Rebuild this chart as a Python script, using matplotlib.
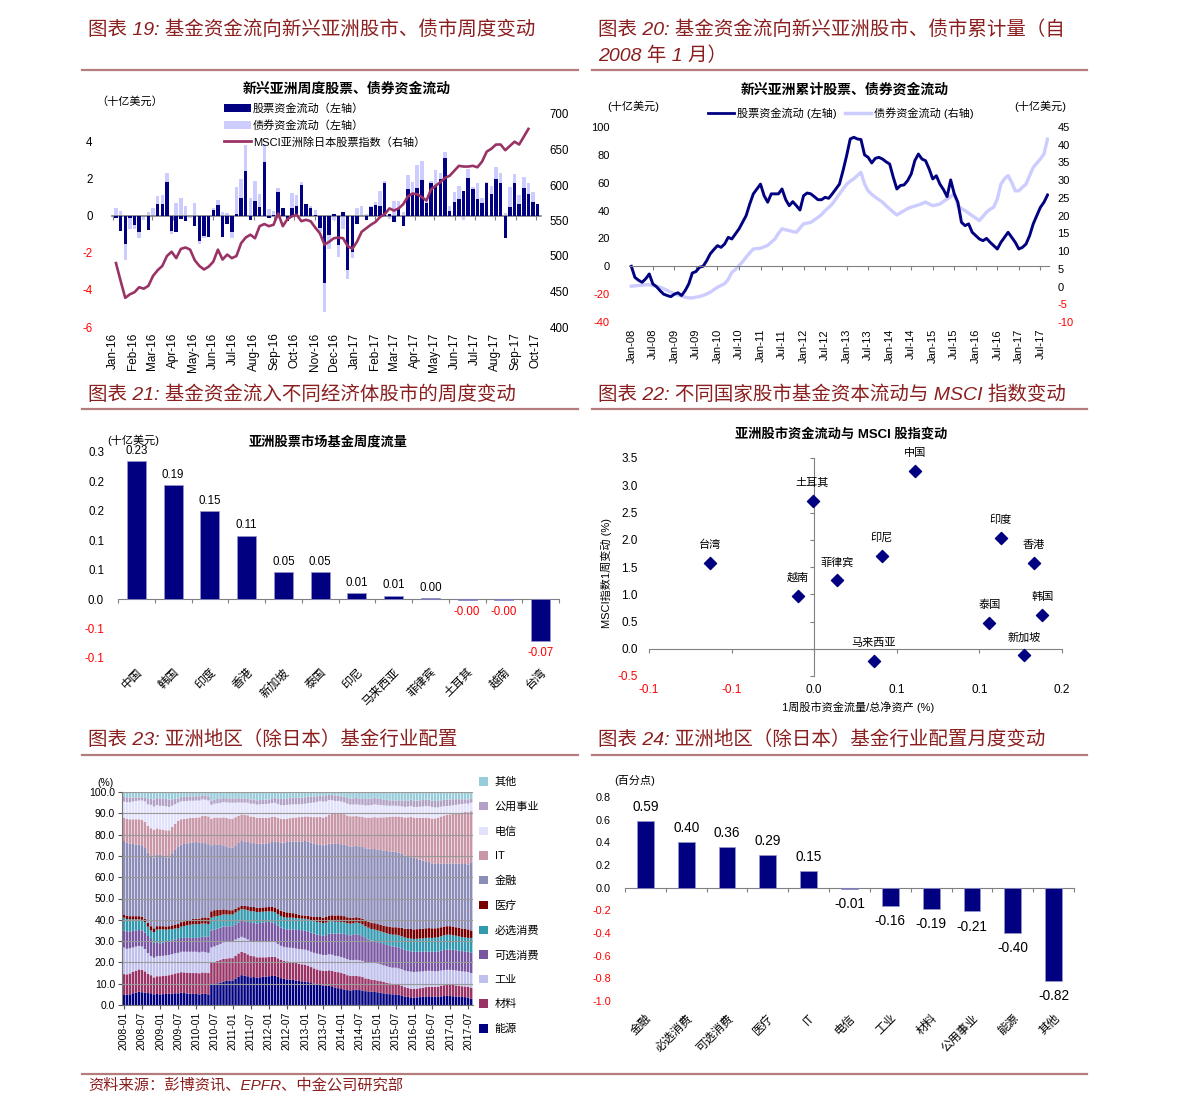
import numpy as np
import pandas as pd
import matplotlib
matplotlib.use('Agg')
import matplotlib.pyplot as plt
import matplotlib.dates as mdates
from matplotlib.patches import Patch
from matplotlib.lines import Line2D

plt.rcParams['font.family'] = ['Liberation Sans', 'Noto Sans CJK SC']
plt.rcParams['axes.unicode_minus'] = False

# ---------------- data ----------------
# Chart 19: weekly flows (bn USD) and MSCI Asia ex Japan
equity_weekly = [-0.1,-0.8,-1.5,-0.1,-0.5,-0.85,0.0,-0.75,0.0,0.63,
                 0.63,1.82,-0.8,-0.85,-0.15,-0.3,0.0,-0.55,-1.35,-1.1,
                 -1.15,0.3,0.6,-1.15,-0.45,-0.85,0.1,0.95,2.4,-0.2,
                 0.8,0.5,2.9,-0.1,0.05,1.3,0.45,-0.3,0.4,0.55,
                 1.65,0.65,0.4,0.05,-0.65,-3.6,-1.05,0.1,-1.55,0.2,
                 -2.9,-1.95,-0.45,0.0,-0.25,0.5,0.6,0.55,1.75,0.1,
                 -0.35,0.4,-0.55,1.45,1.2,1.5,1.95,0.7,1.75,1.6,
                 2.0,3.15,0.25,0.75,0.9,1.35,2.05,1.45,0.9,0.7,
                 1.75,1.2,2.0,1.75,-1.2,0.5,1.75,0.65,1.5,1.2,
                 0.75,0.65]
bond_weekly = [0.45,0.25,-2.4,-0.7,-0.7,-1.2,-0.2,0.2,0.45,1.05,
               1.15,2.3,-1.0,0.7,0.95,0.55,-0.1,0.7,-1.5,-1.2,
               -1.1,0.4,0.85,0.2,0.15,-1.2,1.55,2.0,3.8,0.95,
               1.9,1.2,3.9,0.35,0.25,1.5,0.35,0.0,1.25,1.1,
               1.85,0.6,0.55,0.3,-0.85,-5.2,-1.8,-0.2,-2.2,-0.7,
               -3.4,-2.3,0.4,0.55,0.1,0.55,0.75,1.35,1.9,-0.15,
               0.8,0.8,0.2,2.2,1.85,2.75,2.95,0.75,1.9,2.5,
               2.3,3.45,0.55,1.3,1.6,-0.2,2.55,1.55,1.8,0.95,
               1.85,1.6,2.65,2.3,0.15,1.55,2.25,1.15,2.1,1.75,
               1.3,0.6]
msci_axj = [490,465,441,446,449,456,454,458,472,480,
            486,500,506,497,510,512,509,494,486,481,
            485,492,509,495,502,497,500,518,526,530,
            525,542,545,542,544,560,542,552,556,558,
            549,551,549,540,532,516,520,525,526,525,
            514,510,520,534,539,544,548,555,559,567,
            564,567,573,584,588,587,583,578,594,599,
            604,610,613,620,627,626,626,627,625,633,
            647,651,657,657,649,655,661,657,668,679]

# Chart 20: cumulative flows since Jan-08 (monthly)
equity_cum = [0,-8,-10,-11.5,-9,-5.5,-12.7,-14.6,-17.5,-20,
              -21,-21.8,-20,-19,-21,-17.5,-12.7,-4.8,-3.8,-0.7,
              0,4,9,12,14.8,13.6,16,20.8,19.6,23.2,
              26.8,31.6,36.4,44.7,52,55.5,59,50.7,46,52,
              52,52,55.5,48,43.5,46.4,43.5,40.4,50.7,52.6,
              52,50,47.8,47.8,49.5,48.8,52,55.5,59,68.7,
              79.4,91.4,92.6,91.4,91,80,78.2,74.2,77.5,78.2,
              77,75,73.4,63.9,55.5,58,58.4,61.5,66.3,75.8,
              80.6,77,75.8,69.9,62.7,65,59,55,50,62,
              52,46,31.6,29.2,30.4,24.4,22,19.6,18.4,20,
              17.2,14.8,12.4,17.2,20.8,24.4,20.8,17.2,12.4,13.6,
              16,22,30.4,36.4,42.3,46,51.2]
bond_cum = [0.1,0.2,0.3,0.4,0.5,0.5,0.3,0.0,-0.2,-0.6,
            -1.1,-1.6,-2.0,-2.4,-2.7,-3.0,-3.2,-3.2,-3.0,-2.8,
            -2.5,-2.1,-1.6,-0.9,-0.2,0.3,0.8,2.0,4.0,4.8,
            5.9,7.0,8.3,9.5,10.6,10.7,10.8,11.2,11.6,12.5,
            13.4,15.0,16.3,16.0,15.8,15.5,15.3,16.5,17.7,17.9,
            18.1,18.8,19.5,20.3,21.4,22.3,23.3,24.7,26.1,27.5,
            28.9,29.7,30.4,31.3,32.2,28.9,27.0,26.0,25.2,24.5,
            23.8,22.8,21.9,21.0,20.2,20.8,21.4,22.0,22.4,22.7,
            23.0,23.4,23.8,23.3,22.8,23.0,23.3,24.0,24.7,25.4,
            26.1,22.8,22.0,21.4,20.7,20.0,19.3,18.6,19.8,21.0,
            21.8,22.4,24.7,28.9,30.4,31.3,29.4,27.0,27.0,28.0,
            28.9,31.3,33.6,34.8,36.0,37.4,41.6]
labels20 = ['Jan-08','Jul-08','Jan-09','Jul-09','Jan-10','Jul-10','Jan-11','Jul-11',
            'Jan-12','Jul-12','Jan-13','Jul-13','Jan-14','Jul-14','Jan-15','Jul-15',
            'Jan-16','Jul-16','Jan-17','Jul-17']

# Chart 21
countries21 = ['中国','韩国','印度','香港','新加坡','泰国','印尼','马来西亚','菲律宾','土耳其','越南','台湾']
flows21 = [0.234,0.194,0.149,0.108,0.046,0.046,0.010,0.006,0.002,-0.001,-0.001,-0.071]
yt21 = [-0.1,-0.05,0,0.05,0.1,0.15,0.2,0.25]
ytl21 = ['-0.1','-0.1','0.0','0.1','0.1','0.2','0.2','0.3']

# Chart 22
names22 = ['台湾','土耳其','中国','印尼','菲律宾','越南','马来西亚','印度','香港','韩国','泰国','新加坡']
flow_pct22 = [-0.063,-0.001,0.061,0.041,0.014,-0.010,0.036,0.113,0.133,0.138,0.106,0.127]
msci_chg22 = [1.58,2.71,3.26,1.71,1.26,0.97,-0.22,2.04,1.58,0.62,0.48,-0.12]
xt22 = [-0.1,-0.05,0,0.05,0.1,0.15]
xtl22 = ['-0.1','-0.1','0.0','0.1','0.1','0.2']

# Chart 23: sector allocation (%), monthly 2008-01 .. 2017-08
sectors23 = ['能源','材料','工业','可选消费','必选消费','医疗','金融','IT','电信','公用事业','其他']
energy = [5.0,4.8,5.0,5.5,5.8,6.2, 6.0,5.8,5.6,5.5,5.0,5.2, 5.0,5.1,5.2,5.3,5.4,5.5,
          5.5,5.8,5.6,5.4,5.3,5.2, 5.2,5.0,5.3,5.2,5.0,9.5, 9.8,10.2,10.5,11.0,11.3,11.5,
          11.5,12.3,13.2,14.0,13.8,13.5, 13.0,13.1,12.8,13.0,13.2,13.3, 13.5,13.6,13.8,13.2,12.6,12.3,
          12.0,11.9,11.8,11.5,11.3,11.1, 11.0,10.7,10.3,10.0,9.7,9.4, 9.2,9.0,9.1,8.8,8.2,7.9,
          7.5,7.3,7.0,6.8,7.0,7.2, 7.0,6.8,6.5,6.4,6.2,6.1, 6.0,5.8,5.5,5.3,5.1,5.0,
          5.0,4.8,4.5,4.0,3.8,3.6, 3.5,3.6,3.7,3.8,4.0,4.1, 4.0,3.9,3.8,4.0,4.2,4.3,
          4.2,4.1,4.0,3.9,3.8,3.7, 3.5,3.0]
materials = [9.5,9.6,9.8,10.0,10.3,10.5, 10.5,10.0,9.0,8.5,8.0,8.3, 8.5,8.5,8.6,8.7,9.0,9.3,
             9.5,9.6,9.7,9.8,9.8,9.8, 9.8,9.9,10.0,10.0,10.0,10.5, 10.5,10.5,10.6,10.6,10.5,10.5,
             10.5,10.8,11.0,11.0,10.7,10.3, 10.0,9.8,9.6,9.4,9.2,9.1, 9.0,9.0,8.8,8.7,8.6,8.5,
             8.5,8.4,8.3,8.2,8.1,8.0, 8.0,7.8,7.5,7.2,7.0,6.9, 6.8,7.0,7.2,7.3,7.4,7.5,
             7.5,7.3,7.0,6.8,6.6,6.5, 6.5,6.3,6.0,5.8,5.7,5.6, 5.5,5.4,5.3,5.2,5.1,5.0,
             5.0,4.8,4.6,4.4,4.2,4.1, 4.0,4.1,4.2,4.3,4.4,4.5, 4.5,4.6,4.8,5.0,5.1,5.2,
             5.3,5.3,5.2,5.1,5.0,5.0, 5.0,5.0]
industrials = [12.5,12.0,11.8,11.5,11.3,11.0, 11.0,10.5,9.8,9.0,9.2,9.4, 9.5,9.5,9.5,9.5,9.5,9.5,
               9.5,9.6,9.7,9.8,9.9,10.0, 10.0,9.8,9.7,9.6,9.5,7.0, 7.2,7.4,7.6,7.8,7.9,8.0,
               8.0,7.6,7.2,7.0,7.0,7.0, 7.0,7.1,7.2,7.3,7.4,7.5, 7.5,7.3,7.0,6.8,6.6,6.5,
               6.5,6.6,6.7,6.8,6.9,7.0, 7.0,7.1,7.2,7.3,7.4,7.5, 7.5,7.5,7.5,7.5,7.5,7.5,
               7.5,7.5,7.5,7.5,7.5,7.5, 7.5,7.6,7.7,7.8,7.9,8.0, 8.0,7.9,7.8,7.7,7.6,7.5,
               7.5,7.6,7.7,7.8,7.9,8.0, 8.0,7.9,7.8,7.7,7.6,7.5, 7.5,7.4,7.3,7.2,7.1,7.0,
               7.0,7.0,7.0,7.0,7.0,7.0, 7.0,7.0]
cons_disc = [8.0,8.2,8.0,7.8,7.6,7.5, 7.5,7.8,8.0,8.0,7.0,6.5, 6.0,6.2,6.3,6.5,6.5,6.5,
             6.5,6.5,6.5,6.5,6.5,6.5, 6.5,6.8,7.0,7.3,7.5,8.0, 8.0,7.8,7.6,7.4,7.2,7.0,
             7.0,7.2,7.4,7.5,7.8,8.2, 8.5,8.6,8.7,8.8,8.9,9.0, 9.0,8.9,8.8,8.7,8.6,8.5,
             8.5,8.6,8.7,8.8,8.9,9.0, 9.0,9.0,9.0,9.0,9.0,9.0, 9.0,9.3,9.7,10.0,10.4,10.7,
             11.0,11.2,11.4,11.6,11.8,12.0, 12.0,11.6,11.2,10.8,10.4,10.2, 10.0,10.0,10.0,10.0,10.0,10.0,
             10.0,9.9,9.8,9.7,9.6,9.5, 9.5,9.4,9.3,9.2,9.1,9.0, 9.0,9.1,9.2,9.3,9.4,9.5,
             9.5,9.5,9.5,9.5,9.5,9.5, 9.5,9.5]
cons_stap = [6.0,5.8,5.6,5.4,5.2,5.0, 5.0,4.8,4.4,4.0,5.0,6.0, 6.5,6.2,5.8,5.5,5.3,5.1,
             5.0,5.3,5.6,5.9,6.2,6.4, 6.5,6.4,6.3,6.1,6.0,6.0, 6.0,5.9,5.8,5.7,5.6,5.5,
             5.5,5.5,5.5,5.5,5.5,5.5, 5.5,5.4,5.3,5.2,5.1,5.0, 5.0,5.1,5.2,5.3,5.4,5.5,
             5.5,5.5,5.5,5.5,5.5,5.5, 5.5,5.6,5.7,5.8,5.9,6.0, 6.0,5.9,5.8,5.7,5.6,5.5,
             5.5,5.5,5.5,5.5,5.5,5.5, 5.5,5.5,5.5,5.5,5.5,5.5, 5.5,5.5,5.5,5.5,5.5,5.5,
             5.5,5.6,5.7,5.8,5.9,6.0, 6.0,6.1,6.2,6.3,6.4,6.5, 6.5,6.6,6.7,6.8,6.9,7.0,
             7.0,6.9,6.8,6.7,6.6,6.5, 6.5,7.0]
health = [1.5,1.5,1.5,1.5,1.5,1.5, 1.5,1.6,1.8,2.0,1.8,1.6, 1.5,1.5,1.5,1.5,1.7,1.9,
          2.0,2.1,2.2,2.3,2.4,2.5, 2.5,2.6,2.8,2.9,3.0,3.0, 3.0,2.8,2.6,2.4,2.2,2.0,
          2.0,1.8,1.6,1.5,1.7,1.9, 2.0,2.0,2.0,2.0,2.0,2.0, 2.0,2.1,2.2,2.3,2.4,2.5,
          2.5,2.3,2.1,1.9,1.7,1.5, 1.5,1.7,1.9,2.1,2.3,2.5, 2.5,2.6,2.7,2.8,2.9,3.0,
          3.0,2.9,2.8,2.7,2.6,2.5, 2.5,2.6,2.7,2.8,2.9,3.0, 3.0,3.1,3.2,3.3,3.4,3.5,
          3.5,3.7,3.9,4.1,4.3,4.5, 4.5,4.5,4.5,4.5,4.5,4.5, 4.5,4.4,4.3,4.2,4.1,4.0,
          4.0,4.0,4.0,4.0,4.0,4.0, 4.0,3.5]
financials = [34.5,34.3,34.1,33.9,33.7,33.5, 33.5,33.2,33.0,33.0,33.2,33.4, 33.5,33.0,32.5,32.0,33.5,35.0,
              36.5,36.4,36.3,36.2,36.1,36.0, 36.0,35.6,35.2,34.9,34.5,31.0, 31.0,30.7,30.4,30.1,29.8,29.5,
              29.5,29.8,30.2,30.5,30.3,30.2, 30.0,30.0,30.0,30.0,30.0,30.0, 30.0,30.5,31.0,31.5,32.0,32.5,
              33.0,33.3,33.7,34.0,34.4,34.7, 35.0,34.8,34.6,34.4,34.2,34.0, 34.0,33.9,33.8,33.7,33.6,33.5,
              33.5,33.5,33.5,33.5,33.5,33.5, 33.5,33.8,34.0,34.3,34.6,34.8, 35.0,35.1,35.2,35.3,35.4,35.5,
              35.5,35.2,34.8,34.4,34.0,33.7, 33.5,33.0,32.5,32.0,31.5,31.0, 30.5,30.3,30.1,29.9,29.7,29.5,
              29.5,29.7,29.9,30.1,30.3,30.5, 30.5,32.0]
info_tech = [11.0,11.2,11.4,11.6,11.8,12.0, 12.0,12.3,12.6,13.0,13.0,12.5, 12.0,12.3,12.6,13.0,12.7,12.3,
             12.0,11.9,11.8,11.7,11.6,11.5, 11.5,12.0,12.4,12.8,13.0,12.5, 12.5,12.7,12.9,13.1,13.3,13.5,
             13.5,13.2,12.8,12.5,12.5,12.5, 12.5,12.4,12.3,12.2,12.1,12.0, 12.0,11.8,11.6,11.4,11.2,11.0,
             11.0,11.1,11.2,11.3,11.4,11.5, 11.5,11.8,12.1,12.4,12.7,13.0, 13.0,13.3,13.6,13.9,14.2,14.5,
             14.5,14.4,14.3,14.2,14.1,14.0, 14.0,14.2,14.4,14.6,14.8,15.0, 15.0,15.3,15.6,15.9,16.2,16.5,
             16.5,16.9,17.3,17.8,18.4,19.0, 19.0,19.3,19.7,20.1,20.5,20.8, 21.0,21.3,21.7,22.1,22.5,22.8,
             23.0,23.3,23.6,23.9,24.2,24.4, 24.5,24.0]
telecom = [7.5,7.8,8.0,8.3,8.6,8.8, 9.0,9.5,10.0,11.0,11.0,11.0, 11.0,11.2,11.3,11.0,10.0,9.2,
           8.5,8.4,8.3,8.2,8.1,8.0, 8.0,7.9,7.8,7.6,7.5,6.5, 6.5,6.7,6.9,7.1,7.3,7.5,
           7.5,6.8,6.2,5.5,5.7,5.9, 6.0,6.1,6.2,6.3,6.4,6.5, 6.5,6.5,6.5,6.5,6.5,6.5,
           6.5,6.4,6.3,6.2,6.1,6.0, 6.0,6.3,6.6,6.9,7.2,7.5, 7.5,7.1,6.8,6.4,6.0,5.7,
           5.5,5.5,5.5,5.5,5.5,5.5, 5.5,5.6,5.7,5.8,5.9,6.0, 6.0,5.8,5.6,5.4,5.2,5.1,
           5.0,5.0,5.0,5.0,5.0,5.0, 5.0,5.1,5.2,5.3,5.4,5.5, 5.5,5.2,4.9,4.6,4.3,4.1,
           4.0,4.0,4.0,4.0,4.0,4.0, 4.0,4.0]
utilities = [2.5,2.3,2.1,1.9,1.7,1.5, 1.5,2.0,2.5,3.0,3.2,3.4, 3.5,3.5,3.5,3.5,3.0,2.5,
             2.0,2.0,2.0,2.0,2.0,2.0, 2.0,2.0,2.0,2.0,2.0,2.0, 2.0,2.0,2.0,2.0,2.0,2.0,
             2.0,2.0,2.0,2.0,2.0,2.0, 2.0,2.0,2.0,2.0,2.0,2.0, 2.0,2.2,2.4,2.6,2.8,3.0,
             3.0,3.0,3.0,3.0,3.0,3.0, 3.0,2.9,2.8,2.7,2.6,2.5, 2.5,2.5,2.5,2.5,2.5,2.5,
             2.5,2.6,2.7,2.8,2.9,3.0, 3.0,3.0,3.0,3.0,3.0,3.0, 3.0,2.9,2.8,2.7,2.6,2.5,
             2.5,2.6,2.7,2.8,2.9,3.0, 3.0,3.0,3.0,3.0,3.0,3.0, 3.0,3.0,3.0,3.0,3.0,3.0,
             3.0,2.8,2.6,2.4,2.2,2.0, 2.0,2.0]
labels23 = ['2008-01','2008-07','2009-01','2009-07','2010-01','2010-07','2011-01','2011-07',
            '2012-01','2012-07','2013-01','2013-07','2014-01','2014-07','2015-01','2015-07',
            '2016-01','2016-07','2017-01','2017-07']
colors23 = ['#000080','#993366','#C0C0EC','#7856A2','#3399AE','#780000',
            '#8C8CB8','#C896A6','#E2E2FC','#B2A2C6','#98CCDA']

# Chart 24
sectors24 = ['金融','必选消费','可选消费','医疗','IT','电信','工业','材料','公用事业','能源','其他']
chg24 = [0.59,0.40,0.36,0.29,0.15,-0.01,-0.16,-0.19,-0.21,-0.40,-0.82]

# ---------------- layout helpers ----------------
W, H = 1191, 1116
fig = plt.figure(figsize=(W/100, H/100), dpi=100)

def rect(l, t, r, b):
    return [l/W, 1-b/H, (r-l)/W, (b-t)/H]
def fx(x): return x/W
def fy(y): return 1-y/H

HDR = '#8B1E1E'
HLINE = '#B47C7C'
NAVY = '#000080'
GRAY = '#808080'

def header(x, y, s, size=14):
    fig.text(fx(x), fy(y), s, fontsize=size, color=HDR, style='italic', ha='left', va='center')
def hline(x0, x1, y):
    fig.add_artist(Line2D([fx(x0), fx(x1)], [fy(y), fy(y)], color=HLINE, lw=1.6))

def color_neg(labels, vals):
    for lab, v in zip(labels, vals):
        if v < 0:
            lab.set_color('red')

header(88, 30, '图表 19: 基金资金流向新兴亚洲股市、债市周度变动')
header(598, 30, '图表 20: 基金资金流向新兴亚洲股市、债市累计量（自')
header(598, 56, '2008 年 1 月）')
hline(82, 578, 70); hline(592, 1087, 70)
header(88, 395, '图表 21: 基金资金流入不同经济体股市的周度变动')
header(598, 395, '图表 22: 不同国家股市基金资本流动与 MSCI 指数变动')
hline(82, 578, 409); hline(592, 1087, 409)
header(88, 740, '图表 23: 亚洲地区（除日本）基金行业配置')
header(598, 740, '图表 24: 亚洲地区（除日本）基金行业配置月度变动')
hline(82, 578, 755); hline(592, 1087, 755)
hline(82, 1087, 1074)
header(88, 1085, '资料来源：彭博资讯、EPFR、中金公司研究部', size=11)

# ---------------- Chart 19 ----------------
weeks = mdates.date2num(pd.date_range('2016-01-06', periods=len(equity_weekly), freq='7D'))
ax = fig.add_axes(rect(112, 114, 541, 327))
ax.bar(weeks, bond_weekly, width=5.2, color='#CCCCFF', zorder=2)
ax.bar(weeks, equity_weekly, width=5.2, color=NAVY, zorder=3)
ax.set_ylim(-6, 5.5)
ax.set_xlim(mdates.date2num(pd.Timestamp('2015-12-31')), mdates.date2num(pd.Timestamp('2017-10-09')))
yt = [-6, -4, -2, 0, 2, 4]
ax.set_yticks(yt)
ax.set_yticklabels([str(v) for v in yt])
color_neg(ax.get_yticklabels(), yt)
ax.tick_params(axis='y', length=0, labelsize=8.3, pad=14)
for s in ['top', 'right', 'left']:
    ax.spines[s].set_visible(False)
ax.spines['bottom'].set_position(('data', 0))
ax.spines['bottom'].set_color(GRAY)
ax.spines['bottom'].set_linewidth(1.2)
ax.xaxis.set_major_locator(mdates.MonthLocator())
ax.tick_params(axis='x', direction='out', length=3, color=GRAY, labelbottom=False)
sec = ax.secondary_xaxis('bottom')
sec.xaxis.set_major_locator(mdates.MonthLocator())
sec.xaxis.set_major_formatter(mdates.DateFormatter('%b-%y'))
sec.tick_params(axis='x', length=0, labelsize=8.5, rotation=90, pad=4)
sec.spines['bottom'].set_visible(False)
axr = ax.twinx()
axr.plot(weeks[:len(msci_axj)], msci_axj, color='#993366', lw=1.9, zorder=4)
axr.set_ylim(400, 700)
axr.set_yticks(range(400, 701, 50))
axr.tick_params(axis='y', length=0, labelsize=8.3, pad=6)
for s in axr.spines.values():
    s.set_visible(False)
fig.text(fx(347), fy(89), '新兴亚洲周度股票、债券资金流动', fontsize=10, fontweight='bold', ha='center', va='center')
fig.text(fx(130), fy(101), '（十亿美元）', fontsize=8, ha='center', va='center')
h19 = [Patch(facecolor=NAVY), Patch(facecolor='#CCCCFF'), Line2D([], [], color='#993366', lw=2)]
fig.legend(h19, ['股票资金流动（左轴）', '债券资金流动（左轴）', 'MSCI亚洲除日本股票指数（右轴）'],
           loc='upper left', bbox_to_anchor=(fx(224), fy(103)), frameon=False, fontsize=8,
           handlelength=2.4, handleheight=0.8, handletextpad=0.2, labelspacing=0.55, borderpad=0, borderaxespad=0)

# ---------------- Chart 20 ----------------
months20 = np.arange(len(equity_cum))
ax = fig.add_axes(rect(629, 127, 1049, 322))
ax2 = ax.twinx()
ax2.set_zorder(ax.get_zorder() - 1)
ax.patch.set_visible(False)
ax2.plot(months20, bond_cum, color='#CCCCFF', lw=2.4)
ax.plot(months20, equity_cum, color=NAVY, lw=2.1)
ax.set_ylim(-40, 100)
ax2.set_ylim(-10, 45)
ax.set_xlim(-0.65, 116.4)
yt = list(range(-40, 101, 20))
ax.set_yticks(yt); ax.set_yticklabels([str(v) for v in yt])
color_neg(ax.get_yticklabels(), yt)
ax.tick_params(axis='y', length=0, labelsize=8, pad=14)
yt2 = list(range(-10, 46, 5))
ax2.set_yticks(yt2); ax2.set_yticklabels([str(v) for v in yt2])
color_neg(ax2.get_yticklabels(), yt2)
ax2.tick_params(axis='y', length=0, labelsize=8, pad=6)
for s in ['top', 'right', 'left']:
    ax.spines[s].set_visible(False)
for s in ax2.spines.values():
    s.set_visible(False)
ax.spines['bottom'].set_position(('data', 0))
ax.spines['bottom'].set_color(GRAY)
tick_pos20 = list(range(0, 115, 6))
ax.set_xticks(tick_pos20)
ax.tick_params(axis='x', direction='out', length=3, color=GRAY, labelbottom=False)
sec = ax.secondary_xaxis('bottom')
sec.set_xticks(tick_pos20)
sec.set_xticklabels(labels20)
sec.tick_params(axis='x', length=0, labelsize=8, rotation=90, pad=5)
sec.spines['bottom'].set_visible(False)
fig.text(fx(845), fy(90), '新兴亚洲累计股票、债券资金流动', fontsize=10, fontweight='bold', ha='center', va='center')
fig.text(fx(633), fy(106), '(十亿美元)', fontsize=8, ha='center', va='center')
fig.text(fx(1040), fy(106), '(十亿美元)', fontsize=8, ha='center', va='center')
h20 = [Line2D([], [], color=NAVY, lw=2), Line2D([], [], color='#CCCCFF', lw=2.5)]
fig.legend(h20, ['股票资金流动 (左轴)', '债券资金流动 (右轴)'], loc='center left',
           bbox_to_anchor=(fx(708), fy(113)), ncol=2, frameon=False, fontsize=8,
           handlelength=2.3, handletextpad=0.3, columnspacing=0.8, borderpad=0, borderaxespad=0)

# ---------------- Chart 21 ----------------
x21 = np.arange(len(countries21))
ax = fig.add_axes(rect(118, 452, 559, 658))
ax.bar(x21, flows21, width=0.52, color=NAVY, edgecolor='#9999CC', lw=0.5, zorder=3)
ax.set_ylim(-0.1, 0.25)
ax.set_xlim(-0.5, len(countries21) - 0.5)
ax.set_yticks(yt21); ax.set_yticklabels(ytl21)
color_neg(ax.get_yticklabels(), yt21)
ax.tick_params(axis='y', length=0, labelsize=8.3, pad=10)
for s in ['top', 'right', 'left']:
    ax.spines[s].set_visible(False)
ax.spines['bottom'].set_position(('data', 0))
ax.spines['bottom'].set_color(GRAY)
ax.set_xticks(np.arange(len(countries21) + 1) - 0.5)
ax.tick_params(axis='x', direction='out', length=3, color=GRAY, labelbottom=False)
sec = ax.secondary_xaxis('bottom')
sec.set_xticks(x21)
sec.set_xticklabels(countries21, rotation=45, ha='right', rotation_mode='anchor')
sec.tick_params(axis='x', length=0, labelsize=8.5, pad=6)
sec.spines['bottom'].set_visible(False)
for xi, v in zip(x21, flows21):
    if v >= 0:
        ax.annotate(f'{v:.2f}', (xi, v), xytext=(0, 3), textcoords='offset points',
                    ha='center', va='bottom', fontsize=8.3)
    else:
        ax.annotate(f'{v:.2f}', (xi, v), xytext=(0, -9), textcoords='offset points',
                    ha='center', va='center', fontsize=8.3, color='red')
fig.text(fx(328), fy(443), '亚洲股票市场基金周度流量', fontsize=9.5, fontweight='bold', ha='center', va='center')
fig.text(fx(133), fy(440), '(十亿美元)', fontsize=8, ha='center', va='center')

# ---------------- Chart 22 ----------------
ax = fig.add_axes(rect(649, 458, 1062, 676))
ax.scatter(flow_pct22, msci_chg22, marker='D', s=38, color=NAVY, zorder=3)
for n, xv, yv in zip(names22, flow_pct22, msci_chg22):
    ax.annotate(n, (xv, yv), xytext=(0, 13), textcoords='offset points', ha='center', va='center', fontsize=8)
ax.set_xlim(-0.1, 0.15)
ax.set_ylim(-0.5, 3.5)
for s in ['top', 'right']:
    ax.spines[s].set_visible(False)
ax.spines['left'].set_position(('data', 0))
ax.spines['bottom'].set_position(('data', 0))
ax.spines['left'].set_color(GRAY)
ax.spines['bottom'].set_color(GRAY)
yt22 = [-0.5, 0, 0.5, 1, 1.5, 2, 2.5, 3, 3.5]
ax.set_xticks(xt22); ax.set_yticks(yt22)
ax.tick_params(axis='both', direction='out', length=3, color=GRAY, labelbottom=False, labelleft=False)
secx = ax.secondary_xaxis('bottom')
secx.set_xticks(xt22); secx.set_xticklabels(xtl22)
color_neg(secx.get_xticklabels(), xt22)
secx.tick_params(axis='x', length=0, labelsize=8.5, pad=6)
secx.spines['bottom'].set_visible(False)
secy = ax.secondary_yaxis('left')
secy.set_yticks(yt22); secy.set_yticklabels([f'{v:.1f}' for v in yt22])
color_neg(secy.get_yticklabels(), yt22)
secy.tick_params(axis='y', length=0, labelsize=8.5, pad=8)
secy.spines['left'].set_visible(False)
fig.text(fx(841), fy(434), '亚洲股市资金流动与 MSCI 股指变动', fontsize=9.5, fontweight='bold', ha='center', va='center')
fig.text(fx(606), fy(573), 'MSCI指数1周变动 (%)', fontsize=8, rotation=90, ha='center', va='center')
fig.text(fx(858), fy(707), '1周股市资金流量/总净资产 (%)', fontsize=8, ha='center', va='center')

# ---------------- Chart 23 ----------------
shares = [energy, materials, industrials, cons_disc, cons_stap, health,
          financials, info_tech, telecom, utilities]
shares = [np.array(s) for s in shares]
other = 100 - np.sum(shares, axis=0)
shares.append(other)
m23 = np.arange(len(energy))
ax = fig.add_axes(rect(122, 792, 473, 1005))
bottom = np.zeros(len(m23))
handles23 = []
for name, vals, c in zip(sectors23, shares, colors23):
    bars = ax.bar(m23, vals, bottom=bottom, width=0.8, color=c, lw=0, zorder=2)
    for b in bars:
        b.set_snap(False)
    bottom = bottom + vals
    handles23.append(Patch(facecolor=c, label=name))
ax.set_ylim(0, 100)
ax.set_xlim(-0.6, len(m23) - 0.4)
ax.set_yticks(range(0, 101, 10))
ax.set_yticklabels([f'{v:.1f}' for v in range(0, 101, 10)])
ax.yaxis.grid(True, color='#9A9A9A', lw=0.8, zorder=3)
ax.set_axisbelow(False)
ax.tick_params(axis='y', length=3, labelsize=7.5, pad=2, color='#555555')
ax.set_xticks(list(range(0, len(m23), 6)))
ax.set_xticklabels(labels23, rotation=90)
ax.tick_params(axis='x', length=3, labelsize=7.5, pad=2, color='#555555')
for s in ['top', 'right']:
    ax.spines[s].set_visible(False)
ax.spines['left'].set_color('#777777')
ax.spines['bottom'].set_color('#777777')
fig.text(fx(105), fy(783), '(%)', fontsize=7.5, ha='center', va='center')
fig.legend(handles23[::-1], [h.get_label() for h in handles23[::-1]], loc='upper left',
           bbox_to_anchor=(fx(479), fy(777)), frameon=False, fontsize=8,
           handlelength=0.8, handleheight=0.8, handletextpad=0.6, labelspacing=1.3,
           borderpad=0, borderaxespad=0)

# ---------------- Chart 24 ----------------
x24 = np.arange(len(sectors24))
ax = fig.add_axes(rect(625, 797, 1074, 1001))
ax.bar(x24, chg24, width=0.41, color=NAVY, edgecolor='#9999CC', lw=0.5, zorder=3)
ax.set_ylim(-1.0, 0.8)
ax.set_xlim(-0.5, len(sectors24) - 0.5)
yt24 = [-1.0, -0.8, -0.6, -0.4, -0.2, 0.0, 0.2, 0.4, 0.6, 0.8]
ax.set_yticks(yt24); ax.set_yticklabels([f'{v:.1f}' for v in yt24])
color_neg(ax.get_yticklabels(), yt24)
ax.tick_params(axis='y', length=0, labelsize=7.8, pad=10)
for s in ['top', 'right', 'left']:
    ax.spines[s].set_visible(False)
ax.spines['bottom'].set_position(('data', 0))
ax.spines['bottom'].set_color(GRAY)
ax.set_xticks(np.arange(len(sectors24) + 1) - 0.5)
ax.tick_params(axis='x', direction='out', length=3, color=GRAY, labelbottom=False)
sec = ax.secondary_xaxis('bottom')
sec.set_xticks(x24)
sec.set_xticklabels(sectors24, rotation=45, ha='right', rotation_mode='anchor')
sec.tick_params(axis='x', length=0, labelsize=8.5, pad=8)
sec.spines['bottom'].set_visible(False)
for xi, v in zip(x24, chg24):
    off = 10 if v >= 0 else -11
    ax.annotate(f'{v:.2f}', (xi, v), xytext=(0, off), textcoords='offset points',
                ha='center', va='center', fontsize=9.8)
fig.text(fx(635), fy(780), '(百分点)', fontsize=8, ha='center', va='center')

fig.savefig('out.png', dpi=100)
